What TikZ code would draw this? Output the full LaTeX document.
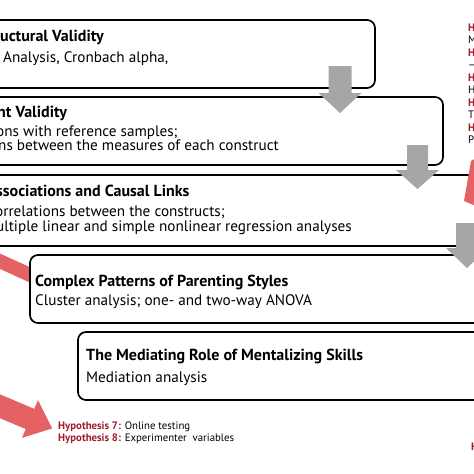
\documentclass[tikz,border=0pt]{standalone}
\usepackage{fontspec}
\setmainfont{PT Sans}
\definecolor{hypred}{RGB}{158,30,45}
\definecolor{arrred}{RGB}{228,98,100}
\definecolor{arrgrey}{RGB}{166,166,166}
\begin{document}
\begin{tikzpicture}[x=1pt,y=-1pt,
  box/.style={draw=black,line width=1.7pt,rounded corners=8pt,fill=white},
  ttl/.style={anchor=base west,inner sep=0pt,font=\fontsize{16}{18}\selectfont\bfseries},
  bdy/.style={anchor=base west,inner sep=0pt,font=\fontsize{15.2}{18}\selectfont},
  hyp/.style={anchor=base west,inner sep=0pt,font=\fontsize{10.8}{12}\selectfont},
  hypb/.style={anchor=base west,inner sep=0pt,text=hypred,font=\fontsize{10.8}{12}\selectfont\bfseries}]
\useasboundingbox (0,0) rectangle (474,474);
\clip (0,0) rectangle (474,474);
\fill[white] (0,0) rectangle (474,474);
% red band behind box 4
\draw[arrred,line width=14pt] (-40,243) -- (50,284);
% boxes
\draw[box] (-30,20) rectangle (375,88);
\draw[box] (-30,97) rectangle (443,165);
\draw[box] (-30,175) rectangle (500,246);
\draw[box] (30,255) rectangle (500,323);
\draw[box] (78,332) rectangle (500,400);
% texts box 1
\node[ttl] (t1) at (0,41) {\llap{Str}uctural Validity};
\node[bdy] (l1) at (3,62) {\llap{Factor }Analysis, Cronbach alpha,};
% box 2
\node[ttl] (t2) at (-3,117) {\llap{Converge}nt Validity};
\node[bdy] (l2a) at (-4,136) {\llap{Comparis}ons with reference samples;};
\node[bdy] (l2b) at (-2,150.5) {\llap{Correlatio}ns between the measures of each construct};
% box 3
\node[ttl] (t3) at (-4,196) {\llap{A}ssociations and Causal Links};
\node[bdy] (l3a) at (-5,216) {\llap{C}orrelations between the constructs;};
\node[bdy] (l3b) at (-4,231) {\llap{M}ultiple linear and simple nonlinear regression analyses};
% box 4
\node[ttl] (t4) at (35,286) {Complex Patterns of Parenting Styles};
\node[bdy] (l4) at (35,305) {Cluster analysis; one- and two-way ANOVA};
% box 5
\node[ttl] (t5) at (86,360) {The Mediating Role of Mentalizing Skills};
\node[bdy] (l5) at (86,382) {Mediation analysis};
% grey arrows
\fill[arrgrey] (328.5,66) -- (351.5,66) -- (351.5,93) -- (361.5,93) -- (340,113) -- (318.5,93) -- (328.5,93) -- cycle;
\fill[arrgrey] (407,145) -- (428,145) -- (428,170) -- (439,170) -- (417.5,189) -- (396,170) -- (407,170) -- cycle;
\fill[arrgrey] (456,223) -- (478,223) -- (478,248) -- (488,248) -- (467,268) -- (446,248) -- (456,248) -- cycle;
% red arrows
\fill[arrred] (-20.7,385.5) -- (34.3,408.9) -- (38,400.1) -- (52.1,428.4) -- (22,437.9) -- (25.7,429.1) -- (-29.3,405.7) -- cycle;
\fill[arrred] (464,201) -- (471,161) -- (490,150) -- (490,212) -- cycle;
% hypotheses bottom
\node[hyp] (h7) at (58,429) {{\bfseries\color{hypred}Hypothesis 7:} Online testing};
\node[hyp] (h8) at (58,441) {{\bfseries\color{hypred}Hypothesis 8:} Experimenter\ \ variables};
% right list
\node[hypb] (r1) at (468,31) {H};
\node[hyp] (r2) at (468,43.5) {M};
\node[hypb] (r3) at (468,56) {H};
\node[hyp] (r4) at (468,68.5) {—};
\node[hypb] (r5) at (468,81) {H};
\node[hyp] (r6) at (468,93.5) {H};
\node[hypb] (r7) at (468,106) {H};
\node[hyp] (r8) at (468,118.5) {T};
\node[hypb] (r9) at (468,131) {H};
\node[hyp] (r10) at (468,143.5) {P};
\node[hypb] (r11) at (471,450) {H};
\end{tikzpicture}
\end{document}
